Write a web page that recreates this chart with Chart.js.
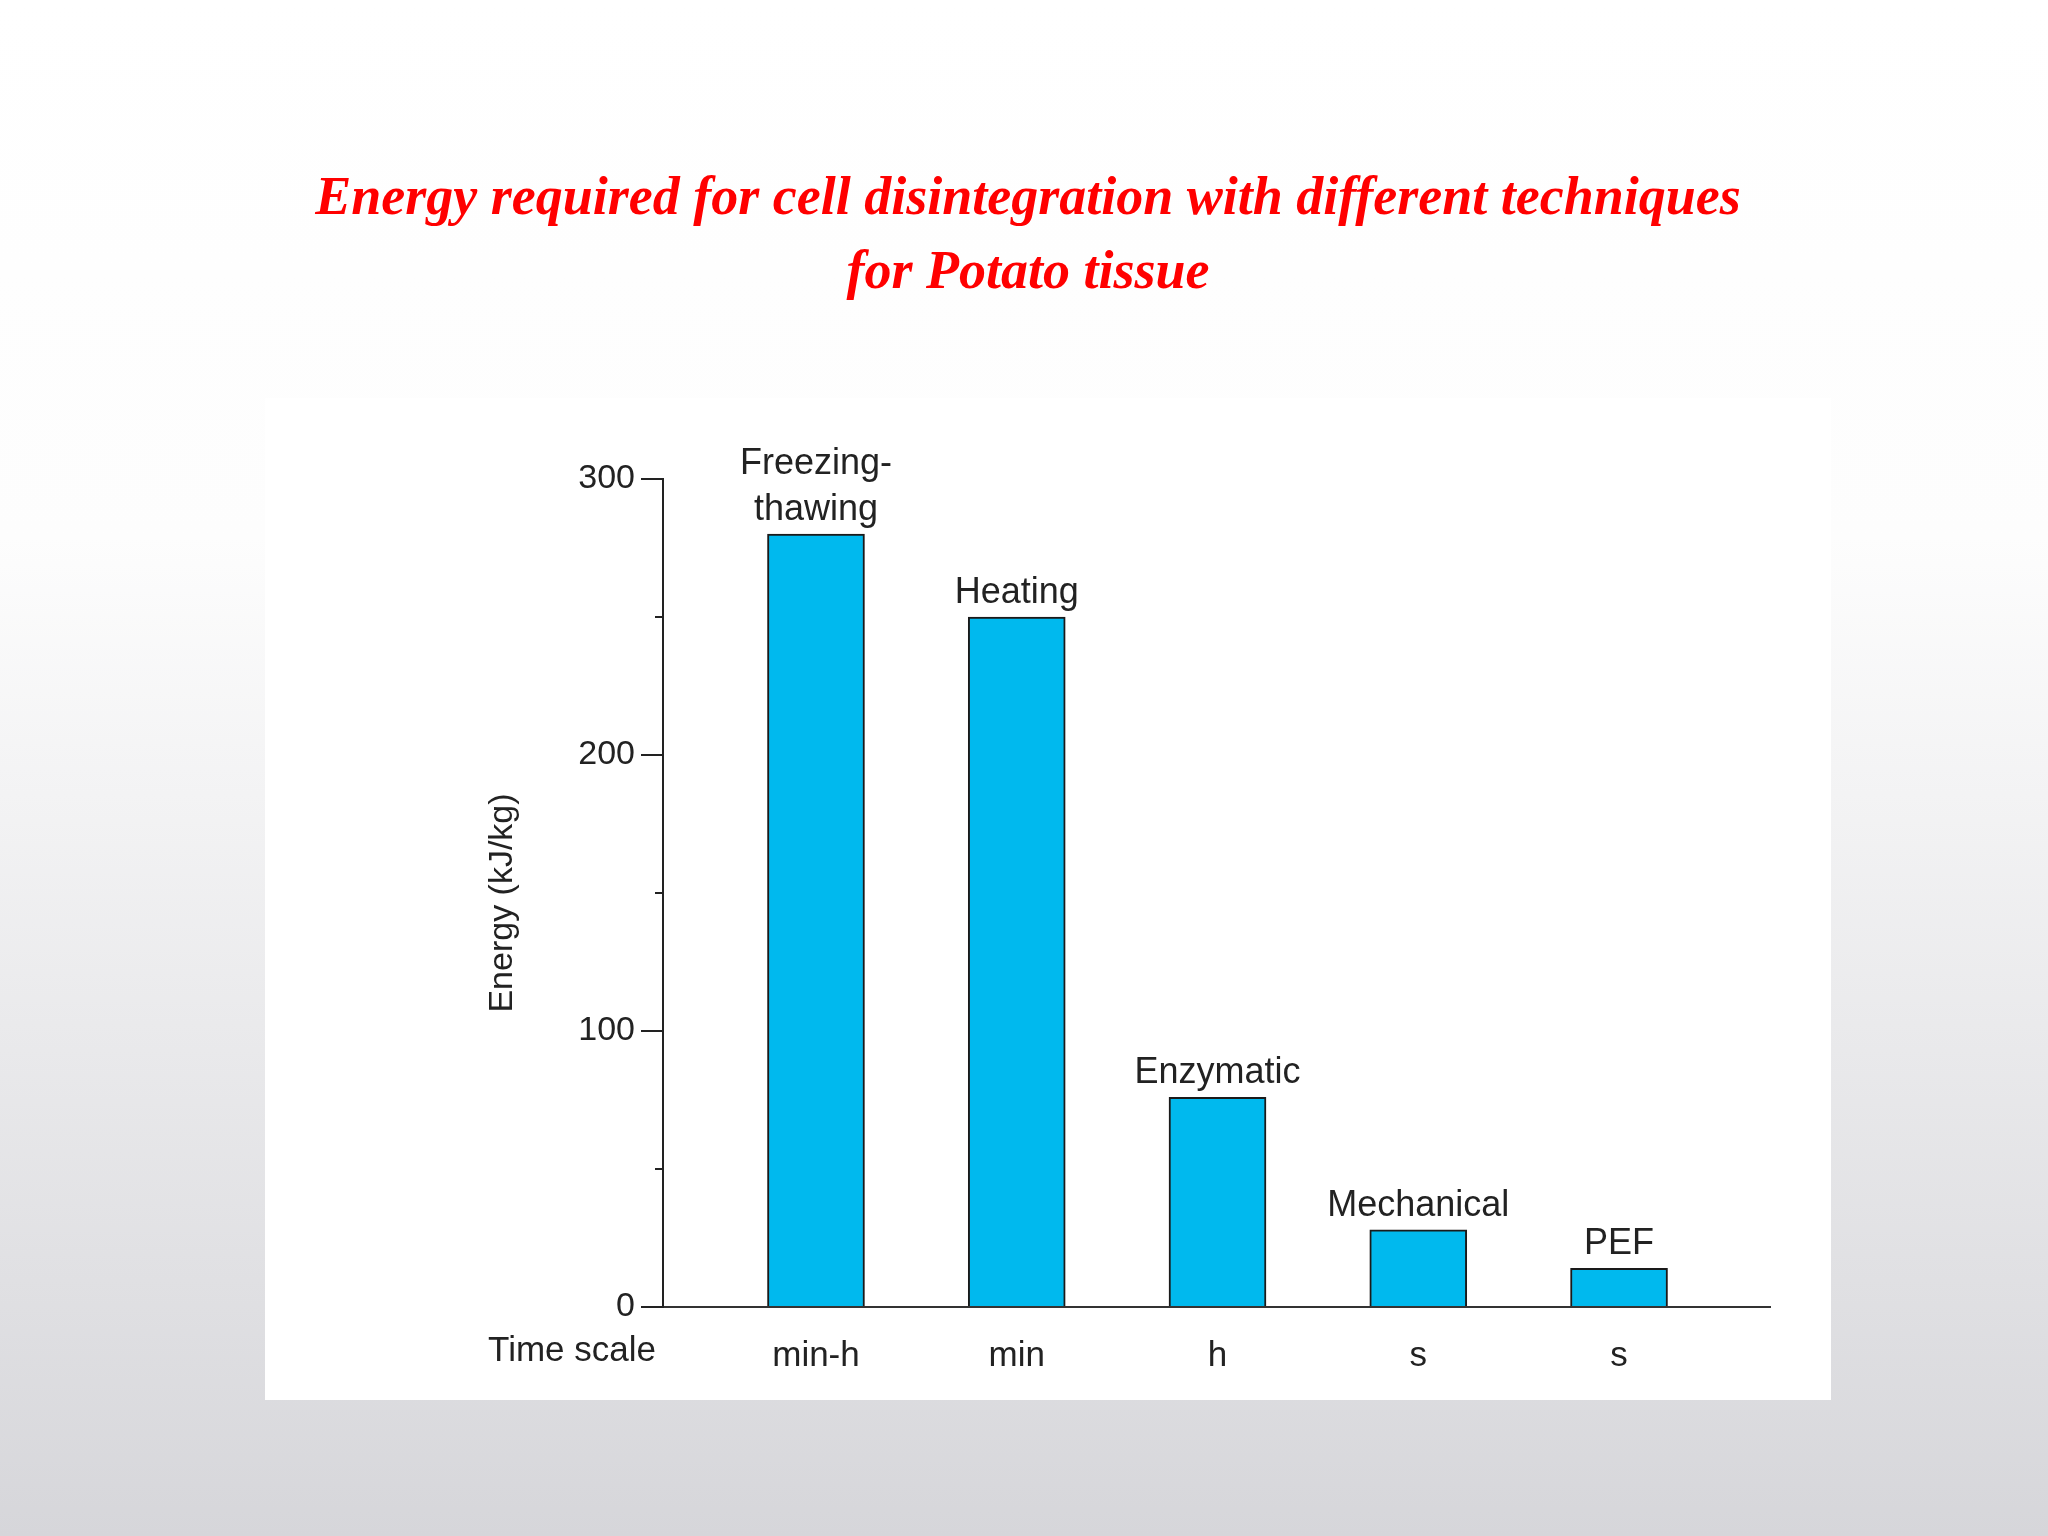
<!DOCTYPE html>
<html><head><meta charset="utf-8">
<script src="https://cdn.jsdelivr.net/npm/chart.js@4"></script>
<style>html,body{margin:0;padding:0;}body{width:2048px;height:1536px;background:linear-gradient(#ffffff 0%,#fdfdfd 35%,#d6d6da 100%);}canvas{display:block}</style>
</head><body>
<div style="width:2048px;height:1536px"><canvas id="c" width="2048" height="1536"></canvas></div>
<script>
const techniques = [["Freezing-","thawing"],["Heating"],["Enzymatic"],["Mechanical"],["PEF"]];
const timeScales = ["min-h","min","h","s","s"];
const energy = [280, 250, 76, 28, 14];
const yTicks = [0, 100, 200, 300];

const deco = {
  id:'deco',
  beforeDraw(ch){
    const c=ch.ctx;
    c.save();
    c.fillStyle='#ffffff';c.fillRect(265,398,1566,1002);
    c.fillStyle='#ff0000';c.font='bold italic 54px "Liberation Serif"';c.textAlign='center';c.textBaseline='middle';
    c.fillText('Energy required for cell disintegration with different techniques',1028,200);
    c.fillText('for Potato tissue',1028,274);
    c.restore();
  },
  afterDraw(ch){
    const c=ch.ctx, xs=ch.scales.x, ys=ch.scales.y;
    c.save();
    c.fillStyle='#222';c.strokeStyle='#222';c.lineWidth=2;
    // minor ticks
    [50,150,250].forEach(v=>{const y=ys.getPixelForValue(v);c.beginPath();c.moveTo(ch.chartArea.left-8,y);c.lineTo(ch.chartArea.left,y);c.stroke();});
    c.font='36px "Liberation Sans"';c.textAlign='center';c.textBaseline='alphabetic';
    energy.forEach((v,i)=>{
      const x=xs.getPixelForValue(i), y=ys.getPixelForValue(v);
      const lines=techniques[i];
      lines.forEach((t,j)=>c.fillText(t,x,y-14-(lines.length-1-j)*46));
    });
    c.textAlign='center';c.textBaseline='middle';c.font='35px "Liberation Sans"';
    c.fillText('Time scale',572,1351);
    c.save();c.translate(503,ys.getPixelForValue(150)+10);c.rotate(-Math.PI/2);
    c.font='34px "Liberation Sans"';c.fillText('Energy (kJ/kg)',0,0);c.restore();
    c.restore();
  }
};

new Chart(document.getElementById('c'),{
  type:'bar',
  data:{datasets:[{data:energy.map((v,i)=>({x:i,y:v})),backgroundColor:'#00b9ee',borderColor:'#1a1a1a',borderWidth:2,barThickness:97}]},
  options:{
    responsive:false,animation:false,
    layout:{padding:{left:0,top:479,right:278,bottom:149}},
    plugins:{legend:{display:false},tooltip:{enabled:false}},
    scales:{
      x:{type:'linear',min:-0.762,max:4.752,offset:false,
        afterBuildTicks:s=>{s.ticks=timeScales.map((t,i)=>({value:i}));},
        afterFit:s=>{s.height=80;},
        grid:{display:false,drawTicks:false},
        border:{color:'#333',width:2},
        ticks:{callback:(v)=>timeScales[v],color:'#222',font:{size:35,family:'Liberation Sans'},padding:28}},
      y:{min:0,max:300,
        afterBuildTicks:s=>{s.ticks=yTicks.map(v=>({value:v}));},
        afterFit:s=>{s.width=663;},
        grid:{drawOnChartArea:false,tickLength:22,color:'#222',lineWidth:2},
        border:{color:'#222',width:2},
        ticks:{color:'#222',font:{size:34,family:'Liberation Sans'},padding:6}}
    }
  },
  plugins:[deco]
});
</script>
</body></html>
